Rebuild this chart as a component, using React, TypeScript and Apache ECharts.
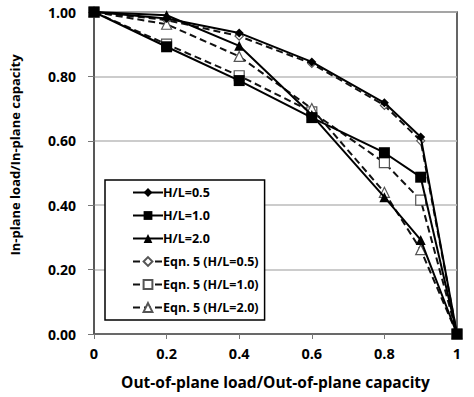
import React, { useEffect, useRef } from "react";
import * as echarts from "echarts";

const xValues = [0, 0.2, 0.4, 0.6, 0.8, 0.9, 1];
const hl05 = [1.0, 0.98, 0.935, 0.845, 0.718, 0.612, 0];
const hl10 = [1.0, 0.892, 0.787, 0.672, 0.563, 0.487, 0];
const hl20 = [1.0, 0.99, 0.895, 0.68, 0.425, 0.292, 0];
const eq05 = [1.0, 0.975, 0.925, 0.84, 0.71, 0.6, 0];
const eq10 = [1.0, 0.9, 0.802, 0.69, 0.532, 0.416, 0];
const eq20 = [1.0, 0.962, 0.862, 0.7, 0.44, 0.262, 0];

const names = [
  "H/L=0.5",
  "H/L=1.0",
  "H/L=2.0",
  "Eqn. 5 (H/L=0.5)",
  "Eqn. 5 (H/L=1.0)",
  "Eqn. 5 (H/L=2.0)",
];

const FONT = "Open Sans";

export default function App() {
  const ref = useRef<HTMLDivElement>(null);
  useEffect(() => {
    if (!ref.current) return;
    const chart = echarts.init(ref.current, null, { renderer: "svg" });
    const pts = (ys: number[]) => xValues.map((x, i) => [x, ys[i]]);
    const solid = (name: string, ys: number[], symbol: string, size: number) => ({
      name,
      type: "line",
      data: pts(ys),
      symbol,
      symbolSize: size,
      lineStyle: { color: "#000", width: 2, type: "solid" },
      itemStyle: { color: "#000", borderColor: "#000", borderWidth: 0 },
      z: 3,
    });
    const dashed = (name: string, ys: number[], symbol: string, size: number) => ({
      name,
      type: "line",
      data: pts(ys),
      symbol,
      symbolSize: size,
      lineStyle: { color: "#111", width: 2, type: [7, 4] },
      itemStyle: { color: "#fff", borderColor: "#555", borderWidth: 1.2 },
      z: 2,
    });
    chart.setOption({
      animation: false,
      backgroundColor: "#fff",
      textStyle: { fontFamily: FONT },
      grid: {
        left: 92,
        right: 17,
        top: 12,
        bottom: 63,
        show: true,
        borderColor: "#333",
        borderWidth: 1.5,
      },
      legend: {
        orient: "vertical",
        left: 105,
        top: 180,
        backgroundColor: "#fff",
        borderColor: "#000",
        borderWidth: 1.5,
        borderRadius: 0,
        padding: [4, 6, 4, 27],
        itemGap: 6,
        itemWidth: 30,
        itemHeight: 11,
        textStyle: {
          fontFamily: FONT,
          fontWeight: "bold",
          fontSize: 12.5,
          lineHeight: 17,
          color: "#000",
          padding: [0, 0, 0, -5],
        },
        data: names,
      },
      xAxis: {
        type: "value",
        min: 0,
        max: 1,
        interval: 0.2,
        name: "Out-of-plane load/Out-of-plane capacity",
        nameLocation: "middle",
        nameGap: 40,
        nameTextStyle: { fontFamily: FONT, fontWeight: "bold", fontSize: 15.5, color: "#000" },
        axisLine: { lineStyle: { color: "#555", width: 1.5 } },
        axisTick: { show: true, length: 5, lineStyle: { color: "#777" } },
        splitLine: { show: false },
        axisLabel: {
          fontFamily: FONT,
          fontWeight: "bold",
          fontSize: 14.5,
          color: "#000",
          margin: 12,
          formatter: (v: number) => (v === 0 ? "0" : v === 1 ? "1" : String(Number(v.toFixed(1)))),
        },
      },
      yAxis: {
        type: "value",
        min: 0,
        max: 1,
        interval: 0.2,
        name: "In-plane load/In-plane capacity",
        nameLocation: "middle",
        nameGap: 73,
        nameTextStyle: {
          fontFamily: FONT,
          fontWeight: "bold",
          fontSize: 13,
          color: "#000",
          padding: [0, 0, 0, 36],
        },
        axisLine: { show: true, lineStyle: { color: "#555", width: 1.5 } },
        axisTick: { show: true, length: 6, lineStyle: { color: "#777" } },
        splitLine: { show: true, lineStyle: { color: "#bbb", width: 1.5 } },
        axisLabel: {
          fontFamily: FONT,
          fontWeight: "bold",
          fontSize: 14,
          color: "#000",
          margin: 18,
          formatter: (v: number) => v.toFixed(2),
        },
      },
      series: [
        solid(names[0], hl05, "diamond", 9),
        solid(names[1], hl10, "rect", 11),
        solid(names[2], hl20, "triangle", 10),
        dashed(names[3], eq05, "diamond", 8),
        dashed(names[4], eq10, "rect", 10),
        dashed(names[5], eq20, "triangle", 10),
      ],
    });
    return () => chart.dispose();
  }, []);
  return <div ref={ref} style={{ width: 474, height: 397, position: "absolute", left: 0, top: 0 }} />;
}
